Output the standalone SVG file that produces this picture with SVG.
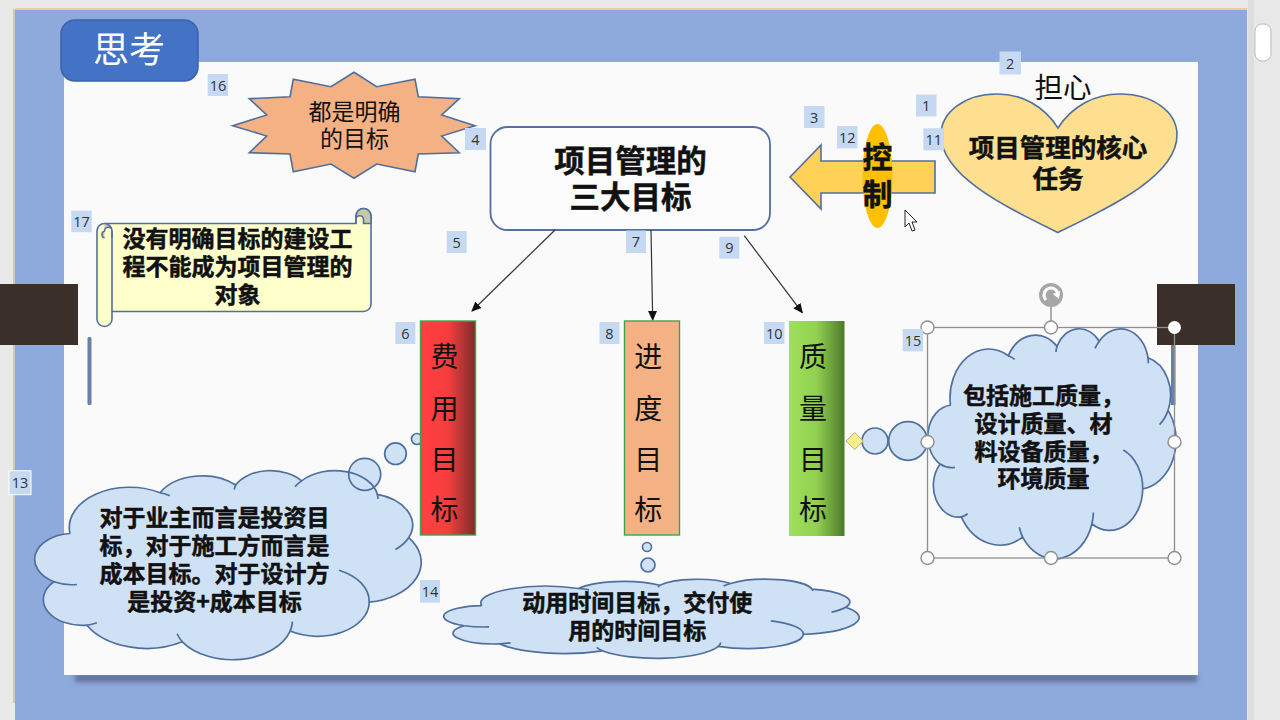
<svg xmlns="http://www.w3.org/2000/svg" xmlns:xlink="http://www.w3.org/1999/xlink" width="1280" height="720" viewBox="0 0 1280 720">
<style>
text{font-family:"Noto Sans CJK SC","Noto Sans",sans-serif;text-anchor:middle;dominant-baseline:central;fill:#111;transform:translateY(-2px)}
.b{font-weight:700;stroke:#111;stroke-width:.5}
.t23{font-size:23px}
.bar{font-size:28px}
.tag rect{fill:#c5daf2}
.tag text{font-family:"Open Sans",sans-serif;font-size:14.5px;fill:#333;transform:none}
.ln{fill:none;stroke:#4f6f9f;stroke-width:1.6}
.shape{stroke:#4f6f9f;stroke-width:1.6}
.cl{fill:#cfe2f5;stroke:#4f6f9f;stroke-width:1.7}
.clf{fill:#cfe2f5}
.cls{fill:none;stroke:#4f6f9f;stroke-width:1.7}
.cb{vector-effect:non-scaling-stroke}
.edge{fill:none;stroke:#333;stroke-width:1.2;marker-end:url(#ah)}
.h{fill:#fff;stroke:#8f8f8f;stroke-width:1.4}
.bart{stroke:#3fa34d;stroke-width:1.4}
</style>
<defs>
<marker id="ah" viewBox="0 0 10 10" refX="9" refY="5" markerWidth="10" markerHeight="10" markerUnits="userSpaceOnUse" orient="auto"><path d="M0 0.5L10 5L0 9.5Z" fill="#111"/></marker>
<linearGradient id="gr" x1="0" x2="1" y1="0" y2="0"><stop offset="0" stop-color="#ff4040"/><stop offset=".5" stop-color="#f63e3e"/><stop offset="1" stop-color="#7d2c2c"/></linearGradient>
<linearGradient id="gg" x1="0" x2="1" y1="0" y2="0"><stop offset="0" stop-color="#9fe05a"/><stop offset=".5" stop-color="#92d050"/><stop offset="1" stop-color="#4c7a2a"/></linearGradient>
<filter id="blur" x="-5%" y="-100%" width="110%" height="300%"><feGaussianBlur stdDeviation="2.5"/></filter>
<path id="cloudShape" class="cb" d="M3900 14370A6753 9190 0 0 1 14005 5202A5333 7267 0 0 1 22458 3435A4365 5945 0 0 1 29837 2487A4857 6595 0 0 1 38322 5583A5333 7273 0 0 1 41823 15468A6775 9220 0 0 1 37407 30210A5785 7867 0 0 1 28558 36820A6752 9215 0 0 1 16483 39272A7720 10543 0 0 1 5806 35478A4360 5918 0 0 1 2113 25556A4345 5945 0 0 1 3862 14511Z"/>
<path id="cloudInner" class="cb" d="M4693 26177A4345 5945 0 0 1 2113 25556M6928 34899A4360 5918 0 0 1 5806 35478M16483 39272A6752 9215 0 0 1 15900 37430M28810 34650A6752 9215 0 0 1 28558 36820M34024 22915A5785 7867 0 0 1 37407 30210M41823 15468A5333 7273 0 0 1 40340 18148M38322 5583A4857 6595 0 0 1 38387 6600M29837 2487A4857 6595 0 0 0 29094 3813M22458 3435A4365 5945 0 0 0 22300 4500M14005 5202A5333 7267 0 0 1 15100 5900"/>
</defs>

<g id="backdrop">
<rect width="1280" height="720" fill="#e9e9e9"/>
<rect x="13" y="9" width="3" height="694" fill="#cfc8b5"/>
<rect x="15" y="8" width="1233" height="3" fill="#eccb9e"/>
<rect x="15" y="10" width="1232" height="710" fill="#8ea9db"/>
<rect x="75" y="674" width="1122" height="8" fill="#5f7097" filter="url(#blur)"/>
<rect x="64" y="62" width="1134" height="613" fill="#fafafa"/>
<rect x="1247" y="0" width="33" height="720" fill="#e8e8e8"/>
<rect x="1248" y="0" width="6" height="720" fill="#dedede"/>
<rect x="1255" y="24" width="16" height="37" rx="7" fill="#fff" stroke="#bbb"/>
<rect x="0" y="284" width="78" height="61" fill="#3a3029"/>
<rect x="1157" y="284" width="78" height="61" fill="#3a3029"/>
<rect x="87.500" y="337" width="4" height="68" rx="1.500" fill="#6a7fa8"/>
<rect x="1171" y="345" width="4.500" height="60" fill="#6a7fa8"/>
</g>

<g id="title">
<rect x="61" y="20" width="137" height="61" rx="14" fill="#4472c4" stroke="#3a62ad" stroke-width="1.500"/>
<text x="129" y="49" font-size="36" style="fill:#fff">思考</text>
</g>

<g id="starNode">
<path class="shape" fill="#f4b183" d="M354 72.300L376.700 86.700L415 79.300L418.300 96.700L459.300 98.700L441.700 115L475 125.700L441.700 136L459.300 152.700L418.300 154L415 171.700L376.700 164L354 178.300L331 164L293.300 171.700L290 154L249.300 152.700L266.700 136L232.700 125.700L266.700 115L249.300 98.700L290 96.700L293.300 79.300L331 86.700Z"/>
<text x="354.500" y="112" font-size="23">都是明确</text>
<text x="354.500" y="139" font-size="23">的目标</text>
</g>

<g id="scrollNode">
<path class="shape" fill="#ffffcc" d="M104.500 223.500H356V216A7.500 7.500 0 0 1 371 216V304A7.500 7.500 0 0 1 363.500 311.500H112V319A7.500 7.500 0 0 1 97 319V231A7.500 7.500 0 0 1 104.500 223.500Z"/>
<path class="shape" fill="#c9c9a3" d="M356 223.500V216A7.500 7.500 0 0 1 371 216V223.500H363.500V219.500A3.700 3.700 0 0 0 356 219.500Z"/>
<path class="shape" fill="#c9c9a3" d="M104.500 223.500A7.500 7.500 0 0 1 112 231V238V231A3.700 3.700 0 0 0 104.500 231A3.700 3.700 0 0 0 104.500 238"/>
<path class="ln" d="M112 231V311.500"/>
<text class="b t23" x="237.500" y="239">没有明确目标的建设工</text>
<text class="b t23" x="237.500" y="267">程不能成为项目管理的</text>
<text class="b t23" x="237.500" y="295">对象</text>
</g>

<g id="mainNode">
<rect x="490.500" y="127" width="279.500" height="103" rx="17" fill="#fcfcfc" stroke="#54709f" stroke-width="1.800"/>
<text class="b" x="630.500" y="161" font-size="30.500">项目管理的</text>
<text class="b" x="630.500" y="197" font-size="30.500">三大目标</text>
</g>

<g id="arrowNode">
<path class="shape" fill="#ffd257" d="M790 177L821 145V161H935V193H821V209Z"/>
<ellipse cx="877.500" cy="176" rx="15" ry="52" fill="#ffc000"/>
<text class="b" x="877.500" y="157" font-size="30">控</text>
<text class="b" x="877.500" y="194" font-size="30">制</text>
</g>

<g id="heartNode">
<text x="1063" y="87" font-size="28.500">担心</text>
<path class="shape" fill="#fddf8f" d="M1058 128C1072 106 1095 94 1120 94C1153 94 1177 112 1177 135C1177 176 1110 207 1058 232.500C1006 207 941 176 941 135C941 112 965 94 997 94C1022 94 1044 106 1058 128Z"/>
<text class="b" x="1058" y="147.500" font-size="25.500">项目管理的核心</text>
<text class="b" x="1058" y="178" font-size="25.500">任务</text>
</g>

<g id="connectors">
<path class="edge" d="M555 230L472 311"/>
<path class="edge" d="M651 230L652.700 320"/>
<path class="edge" d="M744.300 235.700L802.300 312.700"/>
</g>

<g id="cloudLeft">
<circle class="cl" cx="417" cy="439" r="5.500"/>
<circle class="cl" cx="395.500" cy="453.700" r="10.800"/>
<circle class="clf" cx="364.700" cy="474.300" r="16"/>
<use xlink:href="#cloudShape" transform="translate(35 470) scale(.008935 .004375)" class="cl"/>
<use xlink:href="#cloudInner" transform="translate(35 470) scale(.008935 .004375)" class="cls"/>
<circle class="cls" cx="364.700" cy="474.300" r="16"/>
<text class="b t23" x="214.500" y="518.300">对于业主而言是投资目</text>
<text class="b t23" x="214.500" y="546">标，对于施工方而言是</text>
<text class="b t23" x="214.500" y="574">成本目标。对于设计方</text>
<text class="b t23" x="214.500" y="601.700">是投资+成本目标</text>
</g>

<g id="barCost">
<rect class="bart" x="420.500" y="321" width="55" height="214" fill="url(#gr)"/>
<text class="bar" x="444.500" y="357.300">费</text>
<text class="bar" x="444.500" y="409">用</text>
<text class="bar" x="444.500" y="460">目</text>
<text class="bar" x="444.500" y="510">标</text>
</g>

<g id="barSchedule">
<rect class="bart" x="624.500" y="321" width="55" height="214" fill="#f4b183"/>
<text class="bar" x="648.300" y="357.300">进</text>
<text class="bar" x="648.300" y="409">度</text>
<text class="bar" x="648.300" y="460">目</text>
<text class="bar" x="648.300" y="510">标</text>
</g>

<g id="barQuality">
<rect x="789" y="321" width="55.500" height="215" fill="url(#gg)"/>
<text class="bar" x="813" y="357.300">质</text>
<text class="bar" x="813" y="409">量</text>
<text class="bar" x="813" y="460">目</text>
<text class="bar" x="813" y="510">标</text>
</g>

<g id="cloudBottom">
<circle class="cl" cx="647" cy="547" r="4.500"/>
<circle class="cl" cx="648" cy="565" r="7"/>
<use xlink:href="#cloudShape" transform="translate(444 579) scale(.009606 .001829)" class="cl"/>
<use xlink:href="#cloudInner" transform="translate(444 579) scale(.009606 .001829)" class="cls"/>
<text class="b t23" x="637.300" y="603.300">动用时间目标，交付使</text>
<text class="b t23" x="637.300" y="630.700">用的时间目标</text>
</g>

<g id="cloudRight">
<circle class="cl" cx="875" cy="441" r="13"/>
<circle class="cl" cx="908" cy="441" r="19.300"/>
<use xlink:href="#cloudShape" transform="translate(928 328) scale(.00574 .005324)" class="cl"/>
<use xlink:href="#cloudInner" transform="translate(928 328) scale(.00574 .005324)" class="cls"/>
<text class="b t23" x="1043.500" y="395.700">包括施工质量，</text>
<text class="b t23" x="1043.500" y="424">设计质量、材</text>
<text class="b t23" x="1043.500" y="451.700">料设备质量，</text>
<text class="b t23" x="1043.500" y="479">环境质量</text>
</g>

<g id="selection">
<path d="M1051 307V327.500" stroke="#8f8f8f" stroke-width="1.400" fill="none"/>
<rect x="927.500" y="327.500" width="247" height="230.500" fill="none" stroke="#8f8f8f" stroke-width="1.300"/>
<circle class="h" cx="927.500" cy="327.500" r="6.500"/>
<circle class="h" cx="1051" cy="327.500" r="6.500"/>
<circle cx="1174.500" cy="327.500" r="6.500" fill="#fff"/>
<circle class="h" cx="927.500" cy="442" r="6.500"/>
<circle class="h" cx="1174.500" cy="442" r="6.500"/>
<circle class="h" cx="927.500" cy="558" r="6.500"/>
<circle class="h" cx="1051" cy="558" r="6.500"/>
<circle class="h" cx="1174.500" cy="558" r="6.500"/>
<circle cx="1051" cy="295" r="12" fill="#a6a6a6"/>
<path d="M1046 300A7 7 0 1 1 1058 295" fill="none" stroke="#fff" stroke-width="3"/>
<path d="M1053 294L1060 291L1059 299Z" fill="#fff"/>
<path d="M854.700 432.500L863.300 441L854.700 449.500L846.200 441Z" fill="#f5ee8f" stroke="#b9b26a"/>
</g>

<g id="cursor">
<path d="M905 210V227L909 223L912 231L915 230L912 222L917 222Z" fill="#fff" stroke="#222" stroke-width="1"/>
</g>

<g id="tags" class="tag">
<g><rect x="916" y="94.500" width="20.500" height="22"/><text x="926.200" y="105.500">1</text></g>
<g><rect x="999.500" y="51.500" width="21.500" height="23"/><text x="1010.200" y="63">2</text></g>
<g><rect x="804" y="106" width="20.500" height="22"/><text x="814.200" y="117">3</text></g>
<g><rect x="465" y="128" width="21" height="22"/><text x="475.500" y="139">4</text></g>
<g><rect x="446.700" y="231" width="20" height="22"/><text x="456.700" y="242">5</text></g>
<g><rect x="395.300" y="322" width="20" height="22"/><text x="405.300" y="333">6</text></g>
<g><rect x="626" y="230.500" width="20" height="22.500"/><text x="636" y="241.700">7</text></g>
<g><rect x="599.500" y="322" width="20" height="22"/><text x="609.500" y="333">8</text></g>
<g><rect x="719.300" y="236.700" width="20" height="22"/><text x="729.300" y="247.700">9</text></g>
<g><rect x="764" y="322" width="20.500" height="22"/><text x="774.200" y="333">10</text></g>
<g><rect x="923.300" y="128.300" width="20.700" height="22"/><text x="933.700" y="139.300">11</text></g>
<g><rect x="837" y="126" width="20.500" height="22.300"/><text x="847.200" y="137.200">12</text></g>
<g><rect x="9" y="470.700" width="22" height="24" stroke="#fff" stroke-width="1"/><text x="20" y="482.700">13</text></g>
<g><rect x="420" y="580" width="20" height="22.700"/><text x="430" y="591.300">14</text></g>
<g><rect x="902.700" y="329" width="20.300" height="22.300"/><text x="913" y="340.200">15</text></g>
<g><rect x="207.700" y="74" width="20.300" height="22"/><text x="218" y="85">16</text></g>
<g><rect x="71.300" y="210.700" width="20.400" height="21.500"/><text x="81.500" y="221.500">17</text></g>
</g>
</svg>
